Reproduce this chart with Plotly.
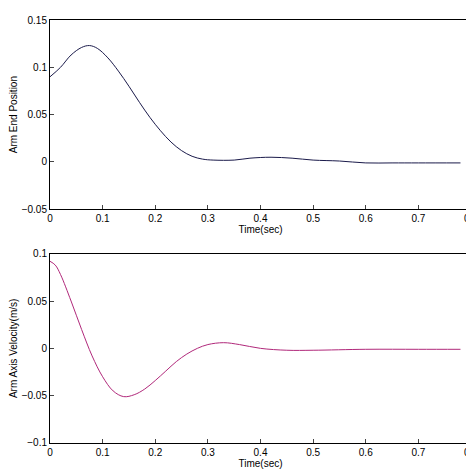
import plotly.graph_objects as go
from plotly.subplots import make_subplots

t_pos = [0, 0.02, 0.04, 0.06, 0.075, 0.09, 0.11, 0.13, 0.15, 0.17, 0.19, 0.21, 0.23, 0.25, 0.27, 0.29, 0.31, 0.35, 0.38, 0.42, 0.46, 0.5, 0.55, 0.6, 0.65, 0.7, 0.78]
pos = [0.09, 0.1, 0.113, 0.121, 0.123, 0.12, 0.11, 0.096, 0.08, 0.063, 0.047, 0.033, 0.021, 0.012, 0.006, 0.003, 0.002, 0.002, 0.004, 0.005, 0.004, 0.002, 0.001, -0.001, -0.001, -0.001, -0.001]

t_vel = [0, 0.01, 0.02, 0.04, 0.06, 0.08, 0.1, 0.12, 0.14, 0.16, 0.18, 0.2, 0.22, 0.24, 0.26, 0.28, 0.3, 0.33, 0.36, 0.4, 0.45, 0.5, 0.6, 0.7, 0.78]
vel = [0.092, 0.088, 0.078, 0.05, 0.02, -0.008, -0.03, -0.045, -0.051, -0.049, -0.043, -0.034, -0.024, -0.014, -0.006, 0.0, 0.004, 0.006, 0.004, 0.0, -0.002, -0.002, -0.001, -0.001, -0.001]

fig = make_subplots(rows=2, cols=1, vertical_spacing=0.105)
fig.add_trace(go.Scatter(x=t_pos, y=pos, mode="lines", line=dict(color="#1a1a4a", width=1, shape="spline")), 1, 1)
fig.add_trace(go.Scatter(x=t_vel, y=vel, mode="lines", line=dict(color="#b0287a", width=1, shape="spline")), 2, 1)

ax = dict(showline=True, mirror=True, linecolor="black", linewidth=1, ticks="inside", ticklen=4,
          showgrid=False, zeroline=False, automargin=False,
          tickfont=dict(size=10, family="Liberation Sans", color="black"))
fig.update_xaxes(**ax, range=[0, 0.8], dtick=0.1)
fig.update_xaxes(title=dict(text="Time(sec)", standoff=0, font=dict(size=10)))
fig.update_yaxes(**ax)
fig.update_yaxes(range=[-0.05, 0.15], dtick=0.05, title=dict(text="Arm End Position", standoff=2, font=dict(size=10)), row=1, col=1)
fig.update_yaxes(range=[-0.1, 0.1], dtick=0.05, title=dict(text="Arm Axis Velocity(m/s)", standoff=2, font=dict(size=10)), row=2, col=1)
fig.update_layout(width=474, height=475, showlegend=False, plot_bgcolor="white", paper_bgcolor="white",
                  margin=dict(l=42, r=11, t=12, b=40), font=dict(family="Liberation Sans", color="black"))
fig.write_html("out.html")
